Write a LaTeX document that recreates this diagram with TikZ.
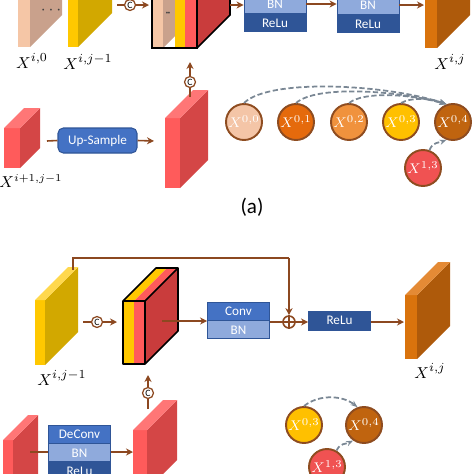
\documentclass[tikz,border=0pt]{standalone}
\usepackage{fontspec}
\setsansfont{Carlito}
\usetikzlibrary{positioning,arrows.meta,calc}

\definecolor{brownline}{HTML}{8C4820}
\definecolor{circbrown}{HTML}{8E4C20}
\definecolor{peachA}{HTML}{F5C6A6}
\definecolor{tanA}{HTML}{C9A18C}
\definecolor{yellowA}{HTML}{FFC800}
\definecolor{yellowB}{HTML}{D2A800}
\definecolor{yellowC}{HTML}{FFD84D}
\definecolor{redA}{HTML}{FF5B5B}
\definecolor{redB}{HTML}{D44646}
\definecolor{redC}{HTML}{FF7676}
\definecolor{redD}{HTML}{C93C3C}
\definecolor{orangeA}{HTML}{D9730D}
\definecolor{orangeB}{HTML}{AE5A0B}
\definecolor{orangeC}{HTML}{E48A35}
\definecolor{convblue}{HTML}{4472C4}
\definecolor{bnblue}{HTML}{8FAADC}
\definecolor{reludark}{HTML}{2F5597}
\definecolor{dashgray}{HTML}{7A8794}
\definecolor{fzz}{HTML}{F4C5A7}
\definecolor{fzo}{HTML}{E56A0C}
\definecolor{fzt}{HTML}{F0923D}
\definecolor{fzh}{HTML}{FFC000}
\definecolor{fzf}{HTML}{C0640F}
\definecolor{foh}{HTML}{F05252}

% feature map slab: x, y, width, height, depth, front, side, top
\newcommand{\drawslab}[8]{%
  \fill[#6] (#1,#2) rectangle ++(#3,#4);
  \fill[#7] (#1+#3,#2) -- ++(#5,-#5) -- ++(0,#4) -- ++(-#5,#5) -- cycle;
  \fill[#8] (#1,#2) -- ++(#5,-#5) -- ++(#3,0) -- ++(-#5,#5) -- cycle;
}

\begin{document}
\begin{tikzpicture}[x=0.02cm, y=-0.02cm,
    arr/.style={draw=brownline, line width=0.9pt, -{Stealth[length=4pt,width=4pt]}},
    ln/.style={draw=brownline, line width=0.9pt},
    cat/.style={circle, draw=brownline, fill=white, line width=0.7pt, inner sep=0pt,
      minimum size=0.22cm, font=\sffamily\fontsize{5.5}{5.5}\selectfont},
    row/.style={rectangle, draw=reludark, line width=0.5pt, text=white, minimum width=1.24cm,
      minimum height=0.36cm, inner sep=0pt, font=\sffamily\fontsize{7.5}{8}\selectfont},
    convrow/.style={row, fill=convblue},
    bnrow/.style={row, fill=bnblue},
    relurow/.style={row, fill=reludark},
    feat/.style={circle, draw=circbrown, line width=1.1pt, minimum size=0.72cm, inner sep=0pt,
      text=white, font=\fontsize{8}{8}\selectfont},
    dasharr/.style={draw=dashgray, dash pattern=on 3pt off 1.5pt, line width=1pt, -{Stealth[length=4pt]}},
    lab/.style={font=\fontsize{9.5}{9.5}\selectfont}
]
\useasboundingbox (0,0) rectangle (474,474);
\clip (0,0) rectangle (474,474);

% ---------- (a) ----------
\drawslab{18}{-40}{12}{87}{32}{peachA}{tanA}{peachA}
\node[text=black!75] (dotsa) at (51,11) {$\cdots$};
\drawslab{68}{-40}{10}{87}{34}{yellowA}{yellowB}{yellowA}
\drawslab{425}{-40}{12}{88}{33}{orangeA}{orangeB}{orangeC}
\drawslab{4}{128}{16}{40}{20}{redA}{redB}{redC}
\drawslab{165}{118}{15}{70}{28}{redA}{redB}{redC}

% concatenated block
\fill[peachA] (152,-40) rectangle (163,48);
\fill[tanA] (163,-40) -- (175,-40) -- (175,36) -- (163,48) -- cycle;
\fill[yellowA] (175,-40) rectangle (185,48);
\fill[redA] (185,-40) rectangle (197,48);
\fill[redD] (197,48) -- (230,15) -- (230,-60) -- (197,-40) -- cycle;
\draw[line width=0.9pt] (152,-40) rectangle (197,48) (197,48) -- (230,15) -- (230,-60);
\node[text=black!75] (dotsb) at (168,14) {$\cdot\!\cdot$};

\node[lab] (lxa0) at (32,61) {$X^{i,0}$};
\node[lab] (lxa1) at (88,62) {$X^{i,j-1}$};
\node[lab] (lxa2) at (450,62) {$X^{i,j}$};
\node[lab, font=\fontsize{9}{9}\selectfont] (lxa3) at (31,181) {$X^{i+1,j-1}$};

\coordinate (ca1) at (117,5);
\node[cat] (cca) at (130,5) {C};
\coordinate (ca2) at (149,5);
\draw[ln] (ca1) -- (cca);
\draw[arr] (cca) -- (ca2);

\node[bnrow] (bn1) at (275,4) {BN};
\node[relurow, below=0pt of bn1] (relu1) {ReLu};
\node[bnrow] (bn2) at (368,5) {BN};
\node[relurow, below=0pt of bn2] (relu2) {ReLu};
\coordinate (blka) at (230,5);
\coordinate (xija) at (424,5);
\draw[arr] (blka) -- (blka -| bn1.west);
\draw[arr] (bn1.east) -- (bn1.east -| bn2.west);
\draw[arr] (bn2.east) -- (xija);

\coordinate (upa1) at (190,97);
\node[cat] (ccb) at (190,82) {C};
\coordinate (upa2) at (190,62);
\draw[ln] (upa1) -- (ccb);
\draw[arr] (ccb) -- (upa2);

\node[rectangle, rounded corners=3pt, fill=convblue, draw=reludark, line width=0.6pt,
  minimum width=1.58cm, minimum height=0.5cm, text=white,
  font=\sffamily\fontsize{7.5}{8}\selectfont] (ups) at (97.5,140.5) {Up-Sample};
\coordinate (usa1) at (47,141);
\coordinate (usa2) at (154,141);
\draw[ln] (usa1) -- (ups.west);
\draw[arr] (ups.east) -- (usa2);

\foreach \n/\x/\lab/\col in {x00/244/{0,0}/fzz, x01/296/{0,1}/fzo, x02/349/{0,2}/fzt,
    x03/401/{0,3}/fzh, x04/453/{0,4}/fzf}
  \node[feat, fill=\col] (\n) at (\x,122) {$X^{\lab}$};
\node[feat, fill=foh] (x13) at (423,168) {$X^{1,3}$};

\draw[dasharr] (x00.north) .. controls +(25,-25) and +(-60,-20) .. (x04.110);
\draw[dasharr] (x01.north) .. controls +(20,-18) and +(-50,-14) .. (x04.110);
\draw[dasharr] (x02.north) .. controls +(15,-12) and +(-35,-10) .. (x04.110);
\draw[dasharr] (x03.north) .. controls +(10,-6) and +(-15,-6) .. (x04.110);
\draw[dasharr] (x13.70) .. controls +(3,-8) and +(-8,3) .. (x04.250);

\node[font=\sffamily\fontsize{12}{12}\selectfont] (capa) at (252,207) {(a)};

% ---------- (b) ----------
\drawslab{35}{300}{10}{65}{33}{yellowA}{yellowB}{yellowC}
\drawslab{405}{295}{12}{64}{33}{orangeA}{orangeB}{orangeC}
\drawslab{3}{440}{10}{60}{25}{redA}{redB}{redC}
\drawslab{133}{430}{14}{60}{30}{redA}{redB}{redC}

% concatenated block
\fill[yellowA] (123,301) rectangle (134,364);
\fill[redA] (134,301) rectangle (145,364);
\fill[redD] (145,364) -- (178,331) -- (178,268) -- (145,301) -- cycle;
\fill[yellowA] (123,301) -- (156,268) -- (167,268) -- (134,301) -- cycle;
\fill[redA] (134,301) -- (167,268) -- (178,268) -- (145,301) -- cycle;
\draw[line width=0.9pt, line join=round] (123,301) rectangle (145,364)
  (145,364) -- (178,331) -- (178,268) -- (156,268) -- (123,301)
  (145,301) -- (178,268);

\node[lab] (lxb1) at (62,378) {$X^{i,j-1}$};
\node[lab] (lxb2) at (430,371) {$X^{i,j}$};

\coordinate (cb1) at (83,322);
\node[cat] (ccc) at (97,322) {C};
\coordinate (cb2) at (117,322);
\draw[ln] (cb1) -- (ccc);
\draw[arr] (ccc) -- (cb2);

\node[convrow] (conv3) at (238.5,311) {Conv};
\node[bnrow, below=0pt of conv3] (bn3) {BN};
\node[circle, draw=brownline, line width=0.9pt, minimum size=0.24cm, inner sep=0pt] (plus) at (289,322) {};
\draw[ln] (plus.north) -- (plus.south) (plus.west) -- (plus.east);
\node[relurow, minimum height=0.38cm] (relu4) at (339.5,320.5) {ReLu};
\coordinate (blkb) at (162,321);
\coordinate (xijb) at (404,322);
\draw[arr] (blkb) -- (blkb -| conv3.west);
\draw[ln] (plus -| bn3.east) -- (plus);
\draw[arr] (plus) -- (plus -| relu4.west);
\draw[arr] (relu4.east |- xijb) -- (xijb);

% skip connection
\coordinate (skipa) at (73,270);
\coordinate (skipb) at (289,258);
\draw[ln] (skipa) |- (skipb);
\draw[arr] (skipb) -- (plus.north);

\coordinate (upb1) at (148,409);
\node[cat] (ccd) at (148,393) {C};
\coordinate (upb2) at (148,375);
\draw[ln] (upb1) -- (ccd);
\draw[arr] (ccd) -- (upb2);

\node[convrow] (deconv) at (79.5,434) {DeConv};
\node[bnrow, below=0pt of deconv] (bn4) {BN};
\node[relurow, below=0pt of bn4] (relu5) {ReLu};
\coordinate (dca) at (30,452);
\coordinate (dcb) at (133,452);
\draw[ln] (dca) -- (dca -| bn4.west);
\draw[arr] (dca -| bn4.east) -- (dcb);

\node[feat, fill=fzh] (y03) at (304,425) {$X^{0,3}$};
\node[feat, fill=fzf] (y04) at (364,425) {$X^{0,4}$};
\node[feat, fill=foh] (y13) at (327,467) {$X^{1,3}$};
\draw[dasharr] (y03.north) .. controls +(15,-12) and +(-15,-12) .. (y04.110);
\draw[dasharr] (y13.60) .. controls +(4,-8) and +(-8,4) .. (y04.235);
\end{tikzpicture}
\end{document}
